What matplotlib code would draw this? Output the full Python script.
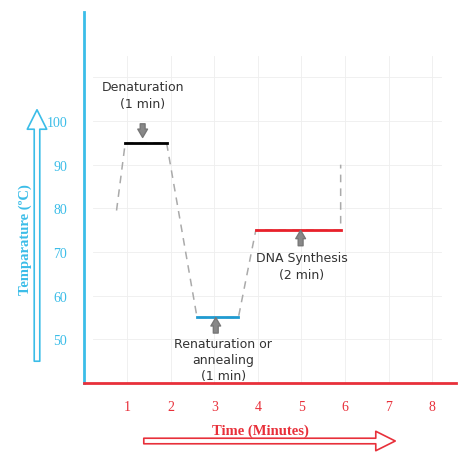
import matplotlib.pyplot as plt
from matplotlib.patches import FancyArrowPatch

# stage segments (time in minutes, temperature in C)
ramp_x = [0.75, 0.95, 1.9, 2.6, 3.55, 3.95, 5.9, 5.9]
ramp_y = [79.5, 95, 95, 55, 55, 75, 75, 90]
stage_x = [(0.95, 1.9), (2.6, 3.55), (3.95, 5.9)]
stage_y = [95, 55, 75]
stage_colors = ['black', '#1f9bd1', '#e8202a']
x_ticks = [1, 2, 3, 4, 5, 6, 7, 8]
y_ticks = [50, 60, 70, 80, 90, 100]

blue = '#3bbde8'
red = '#e8303a'
hand = ['Humor Sans', 'DejaVu Sans']

fig = plt.figure(figsize=(4.74, 4.77), dpi=100)
ax = fig.add_axes([0.177, 0.195, 0.785, 0.778])
ax.set_xlim(0, 8.55)
ax.set_ylim(40, 125)

# faint grid
for v in x_ticks:
    ax.plot([v, v], [40, 115], color='#eeeeee', lw=0.6, zorder=0)
for v in y_ticks + [110]:
    ax.plot([0.2, 8.2], [v, v], color='#eeeeee', lw=0.6, zorder=0)

ax.plot(ramp_x, ramp_y, color='#aaaaaa', lw=1.1, ls=(0, (5, 4)), zorder=1)
for (x0, x1), yv, c in zip(stage_x, stage_y, stage_colors):
    ax.plot([x0, x1], [yv, yv], color=c, lw=2, zorder=2)

arrow_kw = dict(arrowstyle='simple,head_width=0.7,head_length=0.6,tail_width=0.35',
                fc='#888888', ec='#777777')
ax.annotate('', xy=(1.35, 95.6), xytext=(1.35, 100), arrowprops=arrow_kw)
ax.annotate('', xy=(3.03, 55.6), xytext=(3.03, 50.8), arrowprops=arrow_kw)
ax.annotate('', xy=(4.98, 75.6), xytext=(4.98, 70.8), arrowprops=arrow_kw)

tk = dict(ha='center', va='center', color='#333333', fontsize=9, family=hand)
ax.text(1.35, 106, 'Denaturation\n(1 min)', linespacing=1.4, **tk)
ax.text(5.0, 66.8, 'DNA Synthesis\n(2 min)', linespacing=1.4, **tk)
ax.text(3.2, 45.3, 'Renaturation or\nannealing\n(1 min)', linespacing=1.3, **tk)

for s in ['top', 'right']:
    ax.spines[s].set_visible(False)
ax.spines['left'].set_color(blue)
ax.spines['left'].set_linewidth(2)
ax.spines['bottom'].set_color(red)
ax.spines['bottom'].set_linewidth(2)
ax.set_xticks(x_ticks)
ax.set_yticks(y_ticks)
ax.tick_params(length=0, pad=12)
for lab in ax.get_xticklabels():
    lab.set_color(red); lab.set_family('Liberation Serif'); lab.set_fontsize(10)
for lab in ax.get_yticklabels():
    lab.set_color(blue); lab.set_family('Liberation Serif'); lab.set_fontsize(10)

# big hollow arrows and axis titles
big = 'simple,head_width=1.4,head_length=1.4,tail_width=0.4'
fig.add_artist(FancyArrowPatch(
    (37, 112), (37, 369), transform=None, arrowstyle=big,
    mutation_scale=10, fc='white', ec=blue, lw=1.2))
fig.add_artist(FancyArrowPatch(
    (141, 35), (398, 35), transform=None, arrowstyle=big,
    mutation_scale=10, fc='white', ec=red, lw=1.2))
fig.text(25 / 474, 237 / 477, 'Temparature (ºC)', rotation=90, ha='center',
         va='center', color=blue, fontsize=10.5, fontweight='bold',
         family='Liberation Serif')
fig.text(260 / 474, 46 / 477, 'Time (Minutes)', ha='center', va='center',
         color=red, fontsize=10.5, fontweight='bold', family='Liberation Serif')

fig.savefig('out.png', dpi=100)
